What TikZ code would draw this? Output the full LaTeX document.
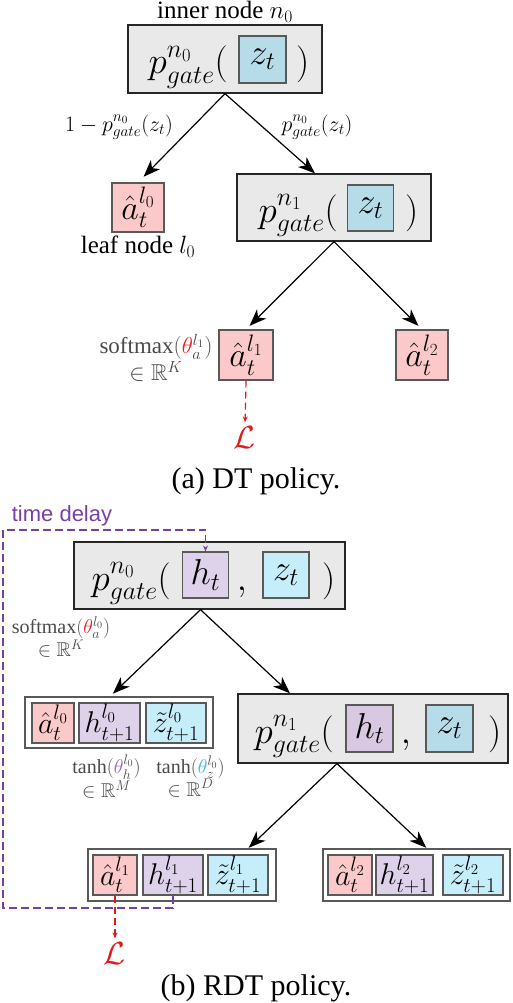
\RequirePackage{fix-cm}
\documentclass[tikz,border=0pt]{standalone}
\usepackage{amssymb}
\usepackage{fontspec}
\setmainfont{Liberation Serif}
\newfontfamily\tdfont{Liberation Sans}
\usetikzlibrary{arrows.meta}
\definecolor{gatefill}{HTML}{E9E9E9}
\definecolor{zfill}{HTML}{B6DCEA}
\definecolor{zcfill}{HTML}{C6EEFA}
\definecolor{afill}{HTML}{FBC9C9}
\definecolor{hfill}{HTML}{DED1EA}
\definecolor{hdfill}{HTML}{D8C8E2}
\definecolor{lblgray}{HTML}{4A4A4A}
\definecolor{thetared}{HTML}{E8202A}
\definecolor{thetapurple}{HTML}{9466C8}
\definecolor{thetacyan}{HTML}{3DB4E8}
\definecolor{tdpurple}{HTML}{7B3FA3}
\definecolor{lossred}{HTML}{E41A1A}
\newcommand\myfs[1]{\fontsize{#1}{#1}\selectfont}
\newcommand\cth[3]{{\color{#1}\theta_{#2}^{\color{lblgray}#3}}}
\tikzset{
  gatebox/.style={draw=black!85, fill=gatefill, line width=1.3pt, inner sep=0pt},
  inbox/.style={draw=black!65, line width=1.1pt, inner sep=0pt, font=\myfs{36}},
  zbox/.style={inbox, fill=zfill},
  zcbox/.style={inbox, fill=zcfill},
  hbox/.style={inbox, fill=hfill},
  hdbox/.style={inbox, fill=hdfill},
  abox/.style={inbox, fill=afill},
  leafbox/.style={draw=black!65, fill=white, line width=1.1pt, inner sep=0pt},
  smallin/.style={minimum height=40pt, font=\myfs{30}},
  mathtxt/.style={inner sep=0pt, font=\myfs{37}},
  elbl/.style={inner sep=0pt, font=\myfs{22}},
  glbl/.style={inner sep=0pt, text=lblgray, align=center},
  arr/.style={-{Stealth[length=17pt,width=13pt,inset=5pt]}, line width=1.2pt},
  redarr/.style={-{Stealth[length=6pt,width=5pt]}, draw=lossred, line width=1.2pt, dash pattern=on 7pt off 4pt},
  tdline/.style={-{Stealth[length=6pt,width=5pt]}, draw=tdpurple, line width=1.1pt, dash pattern=on 8pt off 4pt},
}
\begin{document}
\begin{tikzpicture}[x=1pt,y=-1pt]
\useasboundingbox (0,0) rectangle (512,1003);
% ---------------- (a) DT policy ----------------
\node[inner sep=0pt, font=\myfs{25}] (innerlbl) at (225,12) {inner node $n_0$};
\node[gatebox, minimum width=194pt, minimum height=68pt] (n0) at (225,59) {};
\node[mathtxt, anchor=base east] (n0p) at (228,74) {$p^{n_0}_{gate}($};
\node[zbox, minimum size=47pt] (n0z) at (262.5,59.5) {$z_t$};
\node[mathtxt, anchor=base west] (n0r) at (296,74) {$)$};

\node[elbl] (e1) at (119,127) {$1-p^{n_0}_{gate}(z_t)$};
\node[elbl] (e2) at (317,127) {$p^{n_0}_{gate}(z_t)$};

\node[abox, minimum width=52pt, minimum height=49pt, font=\myfs{34}] (l0) at (138,207.5) {$\hat a_t^{l_0}$};
\node[inner sep=0pt, font=\myfs{25}] (l0lbl) at (138,247) {leaf node $l_0$};

\node[gatebox, minimum width=194pt, minimum height=67pt] (n1) at (334,207.5) {};
\node[mathtxt, anchor=base east] (n1p) at (338,222.5) {$p^{n_1}_{gate}($};
\node[zbox, minimum size=46pt] (n1z) at (370.5,208) {$z_t$};
\node[mathtxt, anchor=base west] (n1r) at (405,222.5) {$)$};

\draw[arr, shorten >=8pt] (n0.south) -- (l0.north);
\draw[arr] (n0.south) -- ([xshift=-19pt]n1.north);

\node[abox, minimum width=54pt, minimum height=50pt, font=\myfs{34}] (l1) at (246,355) {$\hat a_t^{l_1}$};
\node[abox, minimum width=52pt, minimum height=50pt, font=\myfs{34}] (l2) at (422,355) {$\hat a_t^{l_2}$};
\draw[arr, shorten >=5pt] (n1.south) -- (l1.north);
\draw[arr, shorten >=5pt] (n1.south) -- (l2.north);

\node[glbl, font=\myfs{23}] (sm1) at (156,358) {$\mathrm{softmax}(\cth{thetared}{a}{l_1})$\\[1pt]$\in\mathbb{R}^K$};

\node[inner sep=0pt, text=lossred, font=\myfs{32}] (L1) at (245,437.5) {$\mathcal{L}$};
\draw[redarr, shorten >=4pt] (l1.south) -- (L1.north);

\node[inner sep=0pt, font=\myfs{30}] (capa) at (256,481) {(a) DT policy.};

% ---------------- (b) RDT policy ----------------
\node[inner sep=0pt, text=tdpurple, font=\tdfont\myfs{22}] (tdl) at (62,516) {time delay};
\node[gatebox, minimum width=271pt, minimum height=67pt] (m0) at (209.5,575.5) {};
\node[mathtxt, anchor=base east] (m0p) at (171,590.5) {$p^{n_0}_{gate}($};
\node[hbox, minimum size=46pt] (m0h) at (205.5,575) {$h_t$};
\node[mathtxt, anchor=base] (m0c) at (242,590.5) {$,$};
\node[zcbox, minimum size=46pt] (m0z) at (286,575) {$z_t$};
\node[mathtxt, anchor=base west] (m0r) at (322,590.5) {$)$};

\node[glbl, font=\myfs{20}] (sm0) at (61,637) {$\mathrm{softmax}(\cth{thetared}{a}{l_0})$\\$\in\mathbb{R}^K$};

\node[leafbox, minimum width=188pt, minimum height=51pt] (k0) at (119,722.5) {};
\node[abox, smallin, minimum width=42pt] (k0a) at (53,723) {$\hat a_t^{l_0}$};
\node[hbox, smallin, minimum width=61pt] (k0h) at (109.5,723) {$h_{t+1}^{l_0}$};
\node[zcbox, smallin, minimum width=60pt] (k0z) at (176,723) {$\tilde z_{t+1}^{l_0}$};

\node[glbl, font=\myfs{20}] (th) at (106.5,776.5) {$\tanh(\cth{thetapurple}{h}{l_0})$\\$\in\mathbb{R}^M$};
\node[glbl, font=\myfs{20}] (tz) at (190.5,776.5) {$\tanh(\cth{thetacyan}{z}{l_0})$\\$\in\mathbb{R}^D$};

\node[gatebox, minimum width=270pt, minimum height=69pt] (m1) at (373,728.5) {};
\node[mathtxt, anchor=base east] (m1p) at (334,743.5) {$p^{n_1}_{gate}($};
\node[hdbox, minimum size=47pt] (m1h) at (369.5,728.5) {$h_t$};
\node[mathtxt, anchor=base] (m1c) at (406,743.5) {$,$};
\node[zbox, minimum size=47pt] (m1z) at (449.5,728.5) {$z_t$};
\node[mathtxt, anchor=base west] (m1r) at (488,743.5) {$)$};

\draw[arr, shorten >=4pt] ([xshift=-9pt]m0.south) -- ([xshift=-9pt]k0.north);
\draw[arr] ([xshift=-9pt]m0.south) -- ([xshift=-83pt]m1.north);

\node[leafbox, minimum width=188pt, minimum height=52pt] (k1) at (182,875) {};
\node[abox, smallin, minimum width=44pt] (k1a) at (115,875) {$\hat a_t^{l_1}$};
\node[hbox, smallin, minimum width=60pt] (k1h) at (173,875) {$h_{t+1}^{l_1}$};
\node[zcbox, smallin, minimum width=60pt] (k1z) at (238,875) {$\tilde z_{t+1}^{l_1}$};

\node[leafbox, minimum width=187pt, minimum height=52pt] (k2) at (416.5,875) {};
\node[abox, smallin, minimum width=44pt] (k2a) at (350,875) {$\hat a_t^{l_2}$};
\node[hbox, smallin, minimum width=57pt] (k2h) at (404.5,875) {$h_{t+1}^{l_2}$};
\node[zcbox, smallin, minimum width=60pt] (k2z) at (473,875) {$\tilde z_{t+1}^{l_2}$};

\draw[arr, shorten >=1pt] ([xshift=-36pt]m1.south) -- ([xshift=66pt]k1.north);
\draw[arr, shorten >=1pt] ([xshift=-36pt]m1.south) -- ([xshift=10.5pt]k2.north);

\node[inner sep=0pt, text=lossred, font=\myfs{32}] (L2) at (115,953.5) {$\mathcal{L}$};
\draw[redarr, shorten >=4pt] (k1a.south) -- (L2.north);

\coordinate (td1) at (3,908);
\coordinate (td2) at (3,530);
\draw[tdline] (k1h.south) |- (td1) -- (td2) -| (m0h.north);

\node[inner sep=0pt, font=\myfs{30}] (capb) at (256,988) {(b) RDT policy.};
\end{tikzpicture}
\end{document}
